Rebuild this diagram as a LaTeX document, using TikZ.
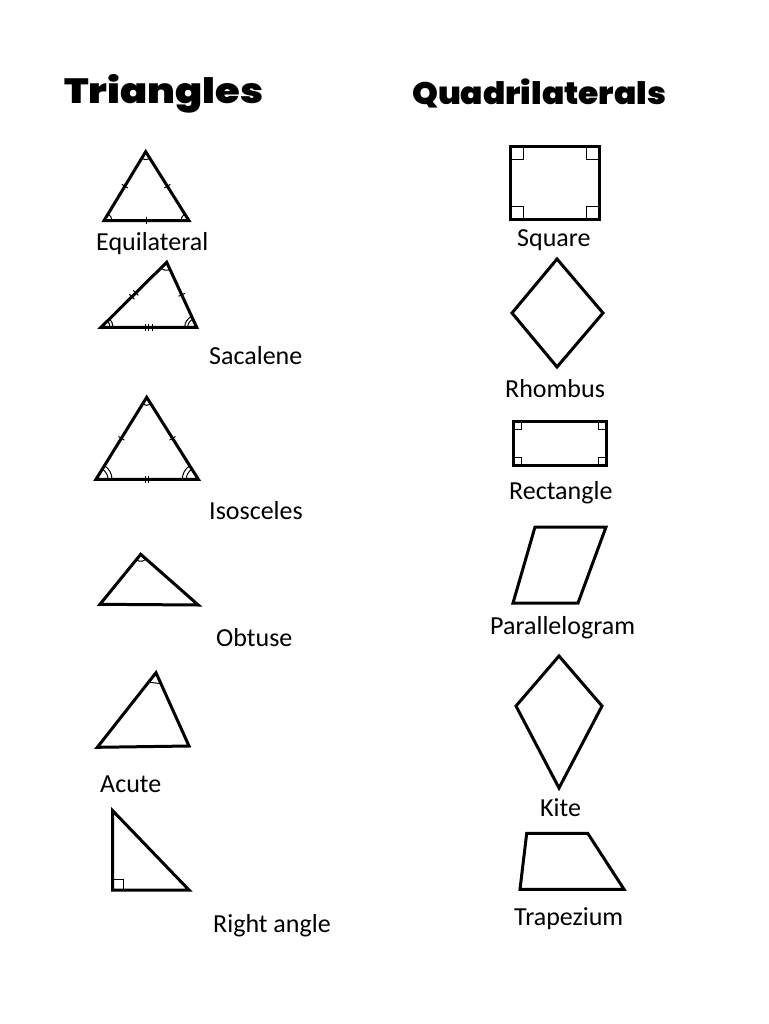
\documentclass[tikz,border=0pt]{standalone}
\usepackage{graphicx}
\usepackage{fontspec}
\setmainfont{Carlito}
\newfontfamily\titlefont{Poppins Black}
\usetikzlibrary{calc,angles}
\tikzset{
  outline/.style={draw=black, line width=3pt},
  markline/.style={draw=black, line width=1pt},
  lbl/.style={anchor=base west, inner sep=0pt, font=\fontsize{26}{30}\selectfont},
  ttl/.style={anchor=base west, inner sep=0pt},
}
% tick mark across segment #1--#2 at position #3
\newcommand{\tickmk}[3]{%
  \path (#1) -- (#2) coordinate[pos=#3] (tm);
  \draw[markline] ($(tm)!3.5pt!90:(#2)$) -- ($(tm)!3.5pt!-90:(#2)$);
}
\newcommand{\angmk}[4]{% #1 first, #2 vertex, #3 last, #4 radius
  \pic[markline, angle radius=#4] {angle=#1--#2--#3};
}
\begin{document}
\begin{tikzpicture}[x=1pt,y=-1pt]
\useasboundingbox[fill=white] (0,0) rectangle (768,1024);

% titles
\node[ttl] (t1) at (64,104) {\titlefont\fontsize{35}{40}\selectfont\resizebox{199pt}{\height}{Triangles}};
\node[ttl] (t2) at (412,105) {\titlefont\fontsize{31}{36}\selectfont\resizebox{254pt}{\height}{Quadrilaterals}};

% ---------- Equilateral
\coordinate (eA) at (145.7,151.7);
\coordinate (eB) at (104,220.7);
\coordinate (eC) at (189,220.7);
\draw[outline] (eA) -- (eB) -- (eC) -- cycle;
\tickmk{eA}{eB}{0.5}
\tickmk{eA}{eC}{0.5}
\tickmk{eB}{eC}{0.5}
\angmk{eC}{eB}{eA}{8pt}
\angmk{eB}{eA}{eC}{8pt}
\angmk{eA}{eC}{eB}{8pt}
\node[lbl] (l1) at (96,251) {Equilateral};

% ---------- Scalene
\coordinate (sA) at (166.7,262.3);
\coordinate (sB) at (101,327.3);
\coordinate (sC) at (196.7,327.3);
\draw[outline] (sA) -- (sB) -- (sC) -- cycle;
\tickmk{sB}{sA}{0.47}
\tickmk{sB}{sA}{0.53}
\tickmk{sA}{sC}{0.5}
\tickmk{sB}{sC}{0.465}
\tickmk{sB}{sC}{0.5}
\tickmk{sB}{sC}{0.535}
\angmk{sC}{sB}{sA}{9pt}
\angmk{sC}{sB}{sA}{12pt}
\angmk{sA}{sC}{sB}{9pt}
\angmk{sA}{sC}{sB}{12pt}
\angmk{sB}{sA}{sC}{8pt}
\node[lbl] (l2) at (209,364) {Sacalene};

% ---------- Isosceles
\coordinate (iA) at (146.7,397.3);
\coordinate (iB) at (96,479.3);
\coordinate (iC) at (198.3,479.3);
\draw[outline] (iA) -- (iB) -- (iC) -- cycle;
\tickmk{iA}{iB}{0.5}
\tickmk{iA}{iC}{0.5}
\tickmk{iB}{iC}{0.485}
\tickmk{iB}{iC}{0.515}
\angmk{iC}{iB}{iA}{12pt}
\angmk{iC}{iB}{iA}{16pt}
\angmk{iA}{iC}{iB}{12pt}
\angmk{iA}{iC}{iB}{16pt}
\angmk{iB}{iA}{iC}{8pt}
\node[lbl] (l3) at (209,519) {Isosceles};

% ---------- Obtuse
\coordinate (oA) at (140.7,554.3);
\coordinate (oB) at (100,604.3);
\coordinate (oC) at (198.3,605);
\draw[outline] (oA) -- (oB) -- (oC) -- cycle;
\angmk{oB}{oA}{oC}{7pt}
\node[lbl] (l4) at (216,646) {Obtuse};

% ---------- Acute
\coordinate (aA) at (156,672.7);
\coordinate (aB) at (97.3,747.3);
\coordinate (aC) at (189,746);
\draw[outline] (aA) -- (aB) -- (aC) -- cycle;
\draw[markline] ($(aA)!12pt!(aB)$) -- ($(aA)!12pt!(aC)$);
\node[lbl] (l5) at (100,792) {Acute};

% ---------- Right angle
\coordinate (rA) at (112.7,810.7);
\coordinate (rB) at (112.7,890);
\coordinate (rC) at (189,890);
\draw[outline] (rA) -- (rB) -- (rC) -- cycle;
\draw[markline] (rB) ++(0,-11) -- ++(11,0) -- ++(0,11);
\node[lbl] (l6) at (213,932) {Right angle};

% ---------- Square
\draw[outline] (510,146.7) rectangle (599,220);
\draw[markline] (510,146.7) rectangle ++(13,13);
\draw[markline] (599,146.7) rectangle ++(-13,13);
\draw[markline] (510,220) rectangle ++(13,-13);
\draw[markline] (599,220) rectangle ++(-13,-13);
\node[lbl] (q1) at (517,247) {Square};

% ---------- Rhombus
\coordinate (rhT) at (557,259);
\coordinate (rhL) at (512,313);
\coordinate (rhB) at (557,367);
\coordinate (rhR) at (603,313);
\draw[outline] (rhT) -- (rhL) -- (rhB) -- (rhR) -- cycle;
\node[lbl] (q2) at (505,397) {Rhombus};

% ---------- Rectangle
\draw[outline] (513.3,421.7) rectangle (606.7,465.7);
\draw[markline] (513.3,421.7) rectangle ++(8,8);
\draw[markline] (606.7,421.7) rectangle ++(-8,8);
\draw[markline] (513.3,465.7) rectangle ++(8,-8);
\draw[markline] (606.7,465.7) rectangle ++(-8,-8);
\node[lbl] (q3) at (509,499) {Rectangle};

% ---------- Parallelogram
\coordinate (pTL) at (535,527);
\coordinate (pTR) at (606,527);
\coordinate (pBR) at (578,603);
\coordinate (pBL) at (513,603);
\draw[outline] (pTL) -- (pTR) -- (pBR) -- (pBL) -- cycle;
\node[lbl] (q4) at (490,634) {Parallelogram};

% ---------- Kite
\coordinate (kT) at (559,656);
\coordinate (kL) at (516,706);
\coordinate (kB) at (559,788);
\coordinate (kR) at (602,706);
\draw[outline] (kT) -- (kL) -- (kB) -- (kR) -- cycle;
\node[lbl] (q5) at (540,816) {Kite};

% ---------- Trapezium
\coordinate (tTL) at (526.7,833.3);
\coordinate (tTR) at (587.7,833.3);
\coordinate (tBR) at (624,889.3);
\coordinate (tBL) at (520,889.3);
\draw[outline] (tTL) -- (tTR) -- (tBR) -- (tBL) -- cycle;
\node[lbl] (q6) at (514,925) {Trapezium};

\end{tikzpicture}
\end{document}
